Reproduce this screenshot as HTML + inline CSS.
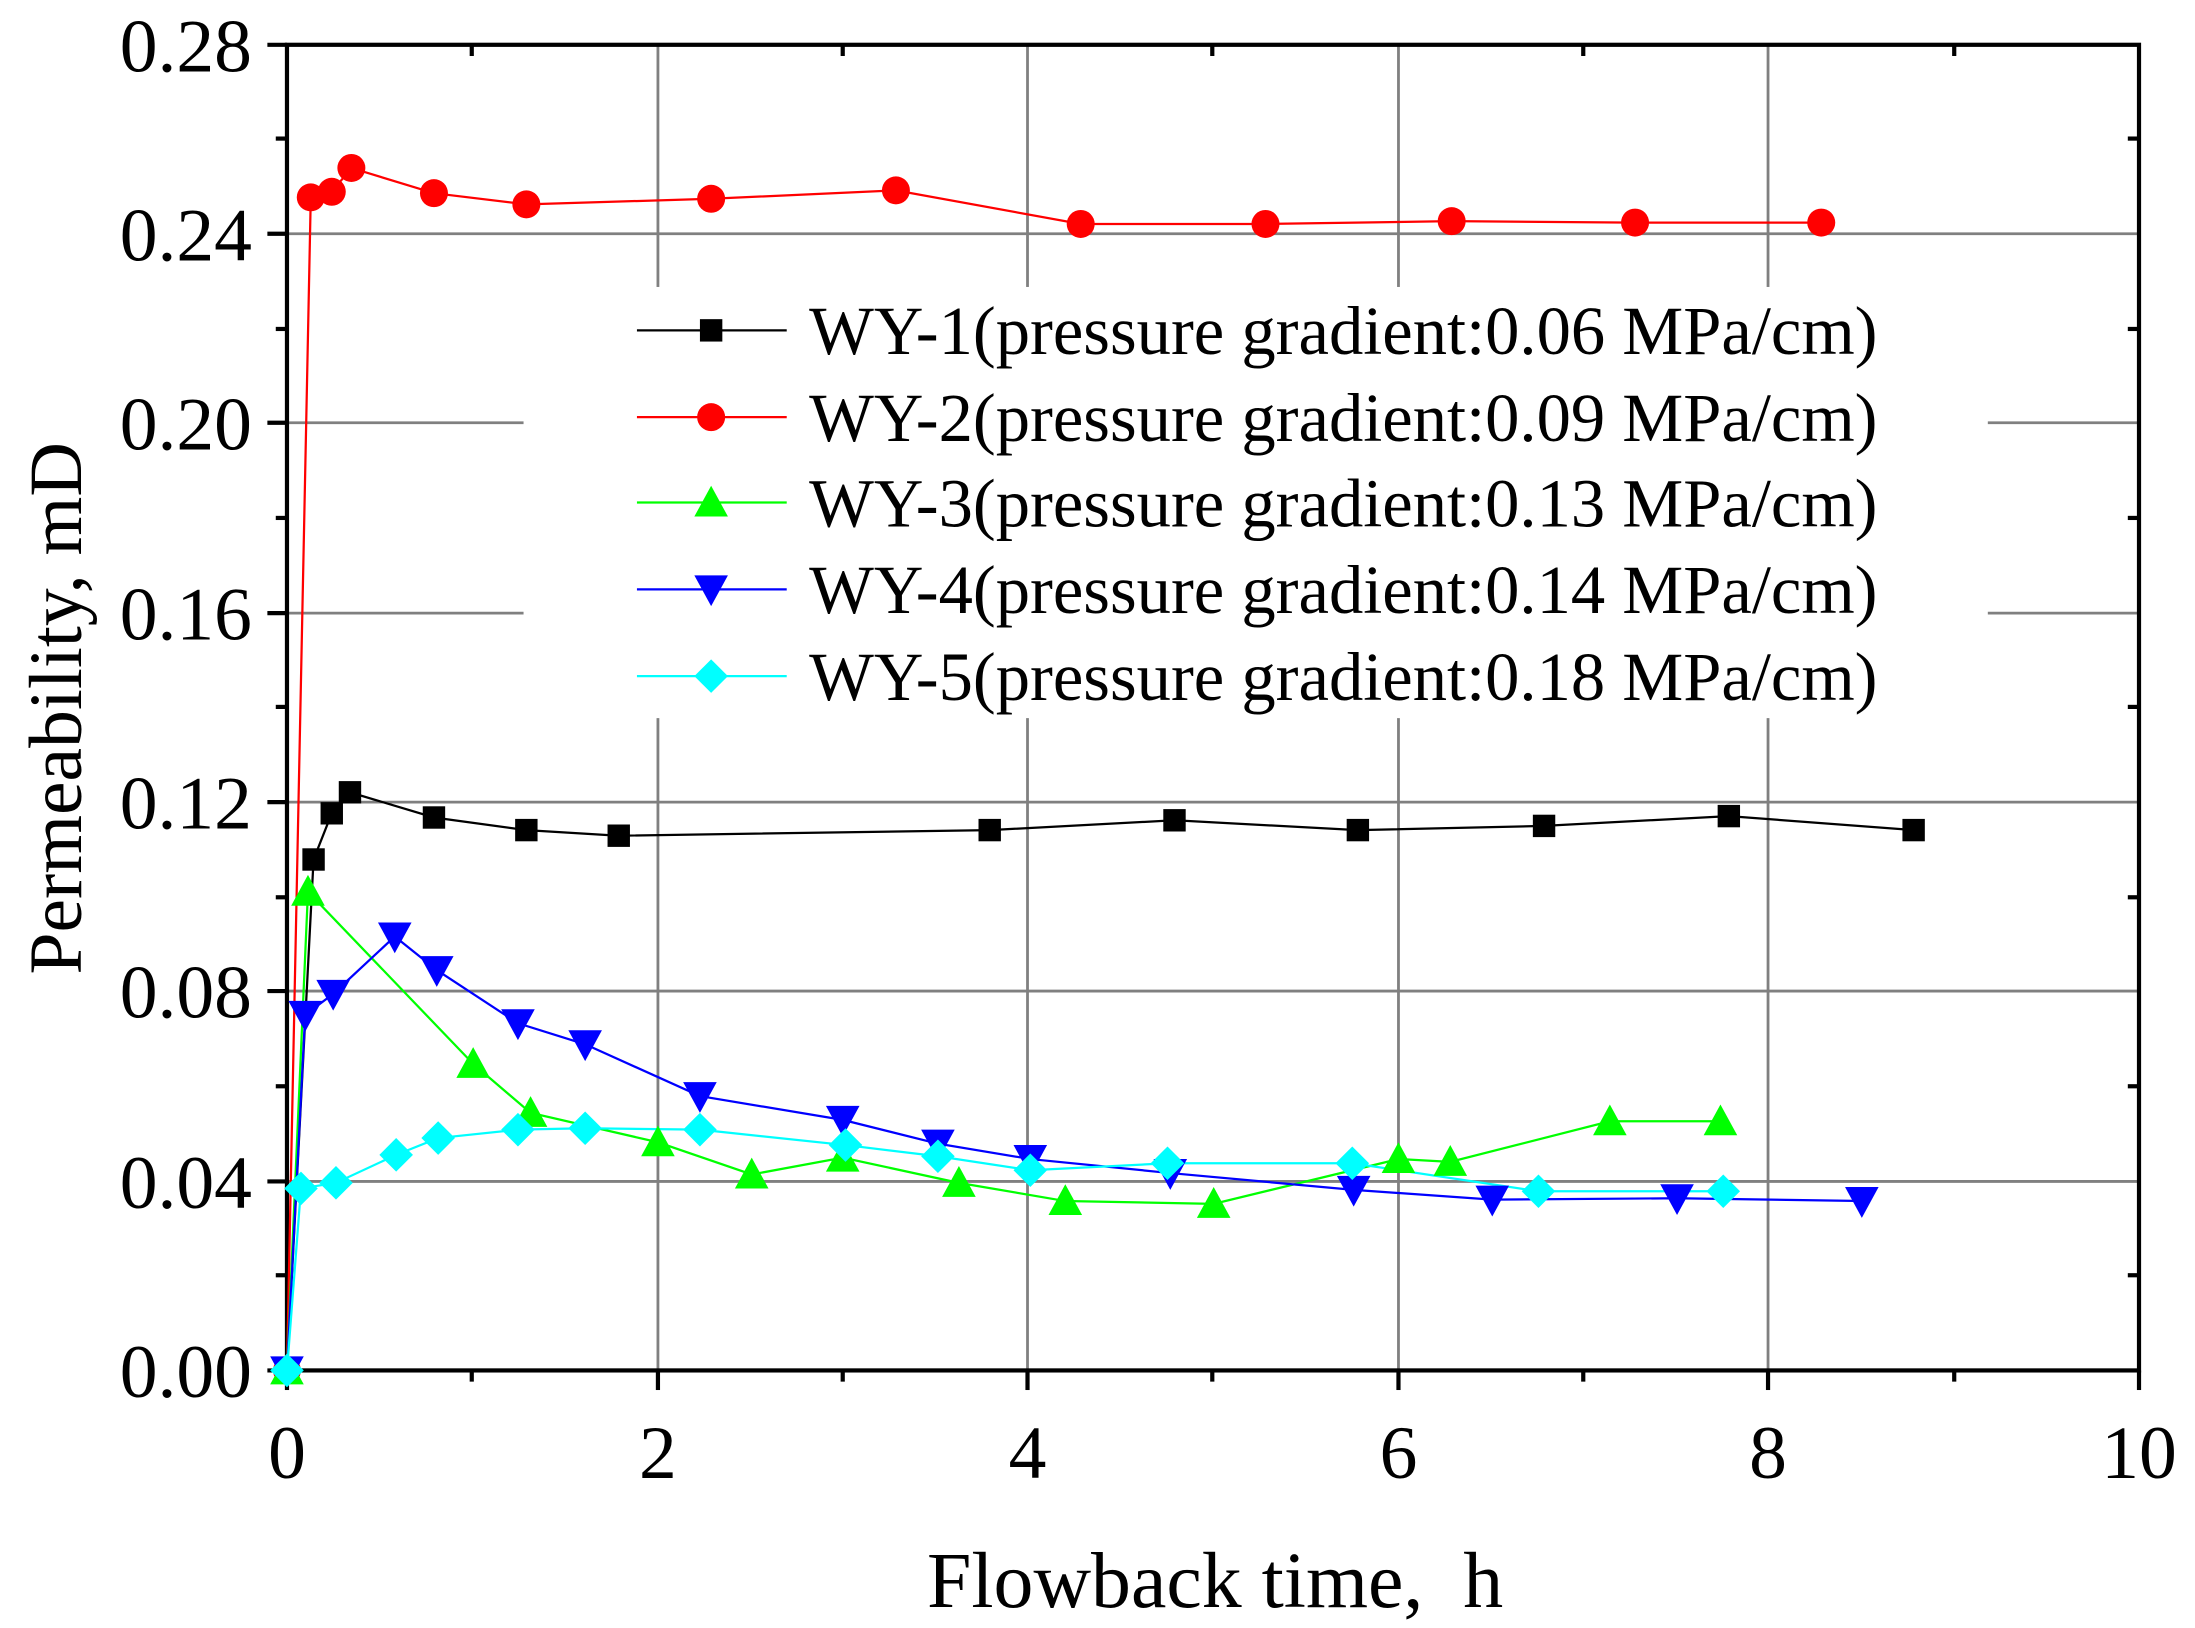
<!DOCTYPE html>
<html><head><meta charset="utf-8"><style>
html,body{margin:0;padding:0;background:#fff;}
svg{display:block;}
text{font-family:"Liberation Serif",serif;fill:#000;}
</style></head><body>
<svg width="2195" height="1628" viewBox="0 0 1568 1163" preserveAspectRatio="none" xmlns="http://www.w3.org/2000/svg">
<defs>
<g id="sq"><rect x="-8" y="-8" width="16" height="16" fill="#000"/></g>
<g id="ci"><circle r="10" fill="#f00"/></g>
<g id="tu"><polygon points="0,-12 12,10 -12,10" fill="#0f0"/></g>
<g id="td"><polygon points="0,12 12,-10 -12,-10" fill="#00f"/></g>
<g id="di"><polygon points="0,-12 12,0 0,12 -12,0" fill="#0ff"/></g>
</defs>
<rect width="1568" height="1163" fill="#fff"/>
<g stroke="#808080" stroke-width="2">
<line x1="470" y1="32" x2="470" y2="979"/>
<line x1="734" y1="32" x2="734" y2="979"/>
<line x1="999" y1="32" x2="999" y2="979"/>
<line x1="1263" y1="32" x2="1263" y2="979"/>
<line x1="205" y1="167" x2="1528" y2="167"/>
<line x1="205" y1="302" x2="1528" y2="302"/>
<line x1="205" y1="438" x2="1528" y2="438"/>
<line x1="205" y1="573" x2="1528" y2="573"/>
<line x1="205" y1="708" x2="1528" y2="708"/>
<line x1="205" y1="844" x2="1528" y2="844"/>
</g>
<rect x="374" y="205" width="1046" height="308" fill="#fff"/>
<rect x="205" y="32" width="1323" height="947" fill="none" stroke="#000" stroke-width="3"/>
<g stroke="#000" stroke-width="3">
<line x1="205" y1="979" x2="205" y2="993"/><line x1="470" y1="979" x2="470" y2="993"/><line x1="734" y1="979" x2="734" y2="993"/><line x1="999" y1="979" x2="999" y2="993"/><line x1="1263" y1="979" x2="1263" y2="993"/><line x1="1528" y1="979" x2="1528" y2="993"/>
<line x1="337" y1="979" x2="337" y2="987"/><line x1="602" y1="979" x2="602" y2="987"/><line x1="866" y1="979" x2="866" y2="987"/><line x1="1131" y1="979" x2="1131" y2="987"/><line x1="1396" y1="979" x2="1396" y2="987"/>
<line x1="337" y1="32" x2="337" y2="40"/><line x1="602" y1="32" x2="602" y2="40"/><line x1="866" y1="32" x2="866" y2="40"/><line x1="1131" y1="32" x2="1131" y2="40"/><line x1="1396" y1="32" x2="1396" y2="40"/>
<line x1="191" y1="32" x2="205" y2="32"/><line x1="191" y1="167" x2="205" y2="167"/><line x1="191" y1="302" x2="205" y2="302"/><line x1="191" y1="438" x2="205" y2="438"/><line x1="191" y1="573" x2="205" y2="573"/><line x1="191" y1="708" x2="205" y2="708"/><line x1="191" y1="844" x2="205" y2="844"/><line x1="191" y1="979" x2="205" y2="979"/>
<line x1="197" y1="99" x2="205" y2="99"/><line x1="197" y1="235" x2="205" y2="235"/><line x1="197" y1="370" x2="205" y2="370"/><line x1="197" y1="505" x2="205" y2="505"/><line x1="197" y1="641" x2="205" y2="641"/><line x1="197" y1="776" x2="205" y2="776"/><line x1="197" y1="911" x2="205" y2="911"/>
<line x1="1520" y1="99" x2="1528" y2="99"/><line x1="1520" y1="235" x2="1528" y2="235"/><line x1="1520" y1="370" x2="1528" y2="370"/><line x1="1520" y1="505" x2="1528" y2="505"/><line x1="1520" y1="641" x2="1528" y2="641"/><line x1="1520" y1="776" x2="1528" y2="776"/><line x1="1520" y1="911" x2="1528" y2="911"/>
</g>
<g font-size="54" text-anchor="end">
<text x="180" y="51">0.28</text><text x="180" y="186">0.24</text><text x="180" y="321">0.20</text><text x="180" y="457">0.16</text><text x="180" y="592">0.12</text><text x="180" y="727">0.08</text><text x="180" y="863">0.04</text><text x="180" y="998">0.00</text>
</g>
<g font-size="54" text-anchor="middle">
<text x="205" y="1056">0</text><text x="470" y="1056">2</text><text x="734" y="1056">4</text><text x="999" y="1056">6</text><text x="1263" y="1056">8</text><text x="1528" y="1056">10</text>
</g>
<text x="868" y="1148" font-size="57" text-anchor="middle" xml:space="preserve">Flowback time,  h</text>
<text transform="translate(58,506) rotate(-90)" font-size="54" text-anchor="middle">Permeability, mD</text>
<g fill="none" stroke-width="1.6">
<polyline stroke="#000" points="205,979 224,614 237,581 250,566 310,584 376,593 442,597 707,593 839,586 970,593 1103,590 1235,583 1367,593"/>
<polyline stroke="#f00" points="205,979 222,141 237,137 251,120 310,138 376,146 508,142 640,136 772,160 904,160 1037,158 1168,159 1301,159"/>
<polyline stroke="#0f0" points="205,979 220,637 338,760 379,795 470,816 537,839 602,827 685,845 761,858 867,860 999,828 1036,830 1150,801 1229,801"/>
<polyline stroke="#00f" points="205,979 218,725 238,710 282,669 312,693 370,731 418,746 500,783 602,800 670,817 736,828 836,838 967,850 1066,857 1198,856 1330,858"/>
<polyline stroke="#0ff" points="205,979 215,849 240,845 283,825 313,813 370,807 418,806 500,807 604,818 670,826 736,836 834,831 966,831 1099,851 1231,851"/>
</g>
<g>
<use href="#sq" x="205" y="979"/><use href="#sq" x="224" y="614"/><use href="#sq" x="237" y="581"/><use href="#sq" x="250" y="566"/><use href="#sq" x="310" y="584"/><use href="#sq" x="376" y="593"/><use href="#sq" x="442" y="597"/><use href="#sq" x="707" y="593"/><use href="#sq" x="839" y="586"/><use href="#sq" x="970" y="593"/><use href="#sq" x="1103" y="590"/><use href="#sq" x="1235" y="583"/><use href="#sq" x="1367" y="593"/>
<use href="#ci" x="205" y="979"/><use href="#ci" x="222" y="141"/><use href="#ci" x="237" y="137"/><use href="#ci" x="251" y="120"/><use href="#ci" x="310" y="138"/><use href="#ci" x="376" y="146"/><use href="#ci" x="508" y="142"/><use href="#ci" x="640" y="136"/><use href="#ci" x="772" y="160"/><use href="#ci" x="904" y="160"/><use href="#ci" x="1037" y="158"/><use href="#ci" x="1168" y="159"/><use href="#ci" x="1301" y="159"/>
<use href="#tu" x="205" y="979"/><use href="#tu" x="220" y="637"/><use href="#tu" x="338" y="760"/><use href="#tu" x="379" y="795"/><use href="#tu" x="470" y="816"/><use href="#tu" x="537" y="839"/><use href="#tu" x="602" y="827"/><use href="#tu" x="685" y="845"/><use href="#tu" x="761" y="858"/><use href="#tu" x="867" y="860"/><use href="#tu" x="999" y="828"/><use href="#tu" x="1036" y="830"/><use href="#tu" x="1150" y="801"/><use href="#tu" x="1229" y="801"/>
<use href="#td" x="205" y="979"/><use href="#td" x="218" y="725"/><use href="#td" x="238" y="710"/><use href="#td" x="282" y="669"/><use href="#td" x="312" y="693"/><use href="#td" x="370" y="731"/><use href="#td" x="418" y="746"/><use href="#td" x="500" y="783"/><use href="#td" x="602" y="800"/><use href="#td" x="670" y="817"/><use href="#td" x="736" y="828"/><use href="#td" x="836" y="838"/><use href="#td" x="967" y="850"/><use href="#td" x="1066" y="857"/><use href="#td" x="1198" y="856"/><use href="#td" x="1330" y="858"/>
<use href="#di" x="205" y="979"/><use href="#di" x="215" y="849"/><use href="#di" x="240" y="845"/><use href="#di" x="283" y="825"/><use href="#di" x="313" y="813"/><use href="#di" x="370" y="807"/><use href="#di" x="418" y="806"/><use href="#di" x="500" y="807"/><use href="#di" x="604" y="818"/><use href="#di" x="670" y="826"/><use href="#di" x="736" y="836"/><use href="#di" x="834" y="831"/><use href="#di" x="966" y="831"/><use href="#di" x="1099" y="851"/><use href="#di" x="1231" y="851"/>
</g>
<g stroke-width="1.6">
<line x1="455" y1="236" x2="562" y2="236" stroke="#000"/>
<line x1="455" y1="298" x2="562" y2="298" stroke="#f00"/>
<line x1="455" y1="359" x2="562" y2="359" stroke="#0f0"/>
<line x1="455" y1="421" x2="562" y2="421" stroke="#00f"/>
<line x1="455" y1="483" x2="562" y2="483" stroke="#0ff"/>
</g>
<use href="#sq" x="508" y="236"/><use href="#ci" x="508" y="298"/><use href="#tu" x="508" y="359"/><use href="#td" x="508" y="421"/><use href="#di" x="508" y="483"/>
<g font-size="49">
<text x="578" y="253">WY-1(pressure gradient:0.06 MPa/cm)</text>
<text x="578" y="315">WY-2(pressure gradient:0.09 MPa/cm)</text>
<text x="578" y="376">WY-3(pressure gradient:0.13 MPa/cm)</text>
<text x="578" y="438">WY-4(pressure gradient:0.14 MPa/cm)</text>
<text x="578" y="500">WY-5(pressure gradient:0.18 MPa/cm)</text>
</g>
</svg>
</body></html>
